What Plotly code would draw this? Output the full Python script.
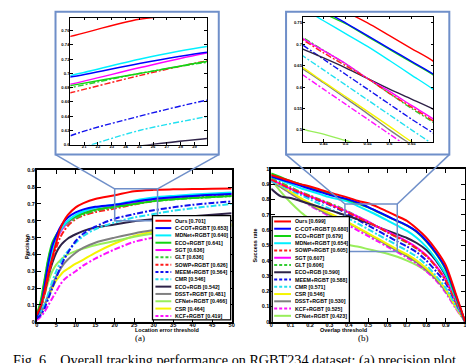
import plotly.graph_objects as go

W, H = 474, 363

# ---------------- data ----------------
T = [0, 1, 2, 3, 4, 5, 6, 7, 8, 10, 12, 15, 20, 25, 30, 35, 40, 45, 50]
P_OURS = [0.04, 0.09, 0.18, 0.29, 0.38, 0.47, 0.55, 0.60, 0.635, 0.68, 0.705, 0.73, 0.752, 0.776, 0.784, 0.787, 0.789, 0.79, 0.792]
P_CCOT = [0.03, 0.09, 0.21, 0.35, 0.45, 0.51, 0.56, 0.595, 0.62, 0.65, 0.668, 0.683, 0.695, 0.714, 0.73, 0.74, 0.748, 0.755, 0.76]
P_MDNET = [0.03, 0.08, 0.19, 0.32, 0.42, 0.49, 0.54, 0.575, 0.60, 0.635, 0.657, 0.678, 0.697, 0.72, 0.738, 0.748, 0.756, 0.762, 0.768]
P_ECO = [0.04, 0.12, 0.25, 0.38, 0.47, 0.515, 0.55, 0.575, 0.595, 0.625, 0.645, 0.665, 0.683, 0.70, 0.717, 0.728, 0.736, 0.742, 0.748]
P_SGT = [0.03, 0.09, 0.19, 0.31, 0.41, 0.48, 0.53, 0.565, 0.59, 0.625, 0.648, 0.667, 0.685, 0.708, 0.729, 0.74, 0.75, 0.757, 0.763]
P_GLT = [0.04, 0.11, 0.24, 0.37, 0.46, 0.505, 0.54, 0.565, 0.585, 0.615, 0.638, 0.66, 0.68, 0.70, 0.716, 0.727, 0.735, 0.741, 0.747]
P_SOWP = [0.03, 0.08, 0.16, 0.27, 0.37, 0.44, 0.50, 0.54, 0.57, 0.61, 0.632, 0.652, 0.673, 0.697, 0.718, 0.73, 0.74, 0.748, 0.755]
P_MEEM = [0.02, 0.04, 0.08, 0.14, 0.20, 0.26, 0.32, 0.37, 0.41, 0.48, 0.525, 0.565, 0.6125, 0.64, 0.663, 0.68, 0.695, 0.706, 0.715]
P_CMR = [0.02, 0.05, 0.10, 0.17, 0.24, 0.30, 0.35, 0.39, 0.42, 0.47, 0.51, 0.55, 0.59, 0.62, 0.64, 0.66, 0.675, 0.688, 0.70]
P_ECORGB = [0.03, 0.08, 0.17, 0.27, 0.35, 0.41, 0.45, 0.475, 0.495, 0.52, 0.54, 0.56, 0.578, 0.598, 0.609, 0.618, 0.627, 0.636, 0.645]
P_DSST = [0.02, 0.05, 0.10, 0.16, 0.22, 0.27, 0.31, 0.345, 0.37, 0.41, 0.44, 0.47, 0.50, 0.525, 0.545, 0.562, 0.577, 0.59, 0.60]
P_CFNET = [0.03, 0.08, 0.16, 0.24, 0.30, 0.34, 0.365, 0.385, 0.40, 0.42, 0.435, 0.455, 0.48, 0.505, 0.525, 0.54, 0.552, 0.562, 0.57]
P_CSR = [0.02, 0.05, 0.10, 0.15, 0.20, 0.245, 0.275, 0.30, 0.315, 0.345, 0.37, 0.41, 0.465, 0.51, 0.535, 0.55, 0.562, 0.572, 0.58]
P_KCF = [0.01, 0.03, 0.06, 0.10, 0.14, 0.18, 0.22, 0.25, 0.27, 0.30, 0.335, 0.375, 0.43, 0.475, 0.50, 0.515, 0.527, 0.537, 0.545]

O = [0, 0.05, 0.1, 0.15, 0.2, 0.25, 0.3, 0.35, 0.4, 0.45, 0.5, 0.55, 0.6, 0.65, 0.7, 0.75, 0.8, 0.85, 0.9, 0.95, 1.0]
S_OURS = [0.96, 0.94, 0.92, 0.90, 0.885, 0.865, 0.845, 0.828, 0.81, 0.79, 0.775, 0.75, 0.72, 0.69, 0.66, 0.61, 0.55, 0.47, 0.37, 0.19, 0.0]
S_CCOT = [0.95, 0.93, 0.91, 0.89, 0.87, 0.85, 0.83, 0.815, 0.80, 0.778, 0.75, 0.72, 0.69, 0.66, 0.63, 0.59, 0.53, 0.45, 0.35, 0.18, 0.0]
S_ECO = [0.97, 0.945, 0.92, 0.90, 0.875, 0.855, 0.835, 0.815, 0.795, 0.772, 0.748, 0.718, 0.688, 0.658, 0.628, 0.588, 0.525, 0.445, 0.34, 0.17, 0.0]
S_MDNET = [0.95, 0.925, 0.90, 0.875, 0.855, 0.835, 0.815, 0.80, 0.785, 0.755, 0.725, 0.695, 0.662, 0.628, 0.594, 0.55, 0.49, 0.41, 0.31, 0.16, 0.0]
S_SOWP = [0.93, 0.90, 0.87, 0.845, 0.82, 0.795, 0.77, 0.74, 0.712, 0.68, 0.65, 0.62, 0.585, 0.553, 0.52, 0.48, 0.43, 0.36, 0.27, 0.14, 0.0]
S_SGT = [0.93, 0.90, 0.87, 0.845, 0.82, 0.795, 0.77, 0.745, 0.715, 0.685, 0.655, 0.62, 0.59, 0.557, 0.525, 0.485, 0.435, 0.365, 0.275, 0.14, 0.0]
S_GLT = [0.94, 0.91, 0.88, 0.85, 0.825, 0.80, 0.775, 0.75, 0.718, 0.686, 0.654, 0.62, 0.585, 0.55, 0.517, 0.478, 0.43, 0.36, 0.27, 0.14, 0.0]
S_ECORGB = [0.87, 0.82, 0.81, 0.79, 0.77, 0.75, 0.73, 0.71, 0.69, 0.668, 0.645, 0.62, 0.595, 0.572, 0.548, 0.515, 0.47, 0.40, 0.30, 0.15, 0.0]
S_MEEM = [0.93, 0.90, 0.87, 0.84, 0.815, 0.79, 0.765, 0.735, 0.70, 0.665, 0.63, 0.595, 0.56, 0.525, 0.492, 0.455, 0.40, 0.33, 0.25, 0.13, 0.0]
S_CMR = [0.92, 0.89, 0.86, 0.83, 0.80, 0.77, 0.74, 0.71, 0.675, 0.64, 0.605, 0.57, 0.535, 0.50, 0.465, 0.425, 0.37, 0.30, 0.22, 0.11, 0.0]
S_CSR = [0.93, 0.89, 0.85, 0.81, 0.775, 0.74, 0.71, 0.68, 0.648, 0.612, 0.578, 0.543, 0.508, 0.472, 0.44, 0.40, 0.35, 0.29, 0.21, 0.10, 0.0]
S_DSST = [0.92, 0.88, 0.84, 0.80, 0.765, 0.73, 0.70, 0.67, 0.644, 0.61, 0.574, 0.538, 0.50, 0.465, 0.43, 0.39, 0.34, 0.28, 0.20, 0.10, 0.0]
S_KCF = [0.92, 0.88, 0.84, 0.80, 0.76, 0.725, 0.69, 0.66, 0.63, 0.595, 0.56, 0.525, 0.49, 0.455, 0.42, 0.38, 0.33, 0.27, 0.19, 0.09, 0.0]
S_CFNET = [0.93, 0.85, 0.78, 0.72, 0.67, 0.62, 0.575, 0.535, 0.503, 0.49, 0.475, 0.46, 0.445, 0.425, 0.40, 0.37, 0.33, 0.28, 0.21, 0.11, 0.0]

PREC_LABELS = ["Ours [0.701]", "C-COT+RGBT [0.653]", "MDNet+RGBT [0.640]", "ECO+RGBT [0.641]",
               "SGT [0.636]", "GLT [0.636]", "SOWP+RGBT [0.626]", "MEEM+RGBT [0.564]",
               "CMR [0.546]", "ECO+RGB [0.542]", "DSST+RGBT [0.481]", "CFNet+RGBT [0.466]",
               "CSR [0.464]", "KCF+RGBT [0.419]"]
SUCC_LABELS = ["Ours [0.699]", "C-COT+RGBT [0.680]", "ECO+RGBT [0.679]", "MDNet+RGBT [0.654]",
               "SOWP+RGBT [0.605]", "SGT [0.607]", "GLT [0.606]", "ECO+RGB [0.590]",
               "MEEM+RGBT [0.588]", "CMR [0.571]", "CSR [0.546]", "DSST+RGBT [0.530]",
               "KCF+RGBT [0.525]", "CFNet+RGBT [0.423]"]

# styles per method
STY = {
    "Ours": ("#ff0000", "solid"), "C-COT+RGBT": ("#0000ff", "solid"),
    "MDNet+RGBT": ("#00f0ff", "solid"), "ECO+RGBT": ("#12d412", "solid"),
    "SGT": ("#ff00ff", "solid"), "GLT": ("#33cc33", "dash"),
    "SOWP+RGBT": ("#ff1a1a", "dash"), "MEEM+RGBT": ("#1010ee", "dash"),
    "CMR": ("#22e0f0", "dash"), "ECO+RGB": ("#2e2248", "solid"),
    "DSST+RGBT": ("#808080", "solid"), "CFNet+RGBT": ("#98ee5a", "solid"),
    "CSR": ("#f5f500", "solid"), "KCF+RGBT": ("#ff10ff", "dash"),
}
PREC = {"Ours": P_OURS, "C-COT+RGBT": P_CCOT, "MDNet+RGBT": P_MDNET, "ECO+RGBT": P_ECO,
        "SGT": P_SGT, "GLT": P_GLT, "SOWP+RGBT": P_SOWP, "MEEM+RGBT": P_MEEM, "CMR": P_CMR,
        "ECO+RGB": P_ECORGB, "DSST+RGBT": P_DSST, "CFNet+RGBT": P_CFNET, "CSR": P_CSR, "KCF+RGBT": P_KCF}
SUCC = {"Ours": S_OURS, "C-COT+RGBT": S_CCOT, "MDNet+RGBT": S_MDNET, "ECO+RGBT": S_ECO,
        "SGT": S_SGT, "GLT": S_GLT, "SOWP+RGBT": S_SOWP, "MEEM+RGBT": S_MEEM, "CMR": S_CMR,
        "ECO+RGB": S_ECORGB, "DSST+RGBT": S_DSST, "CFNet+RGBT": S_CFNET, "CSR": S_CSR, "KCF+RGBT": S_KCF}

DASHDOT = "6px,2px,2px,2px"


def px(x):
    return x / W


def py(y):
    return 1 - y / H


# axes pixel boxes (left, top, right, bottom)
BOX = {
    1: (27, 162, 224, 316),   # precision main
    2: (264, 160.5, 460, 316),  # success main
    3: (61, 7, 199, 136),     # precision inset
    4: (296, 6, 428, 133),    # success inset
}
RNG = {
    1: ([0, 50], [0, 0.9]),
    2: ([0, 1], [0, 1]),
    3: ([20, 29.9], [0.6, 0.778]),
    4: ([0.403, 0.70], [0.472, 0.764]),
}

fig = go.Figure()


def add_curves(xs, table, labels, k, width):
    for lab in reversed(labels):
        name = lab.split(" [")[0]
        col, dash = STY[name]
        fig.add_trace(go.Scatter(
            x=xs, y=table[name], mode="lines", name=lab, showlegend=False,
            line=dict(color=col, width=width, dash=DASHDOT if dash == "dash" else "solid",
                      shape="spline", smoothing=0.8),
            xaxis="x" if k == 1 else f"x{k}", yaxis="y" if k == 1 else f"y{k}",
            hoverinfo="skip"))


add_curves(T, PREC, PREC_LABELS, 1, 2)
add_curves(O, SUCC, SUCC_LABELS, 2, 2)
add_curves(T, PREC, PREC_LABELS, 3, 1.4)
add_curves(O, SUCC, SUCC_LABELS, 4, 1.4)

TICKS = {
    1: (list(range(0, 51, 5)), [str(v) for v in range(0, 51, 5)],
        [i / 10 for i in range(10)], ["0"] + [f"0.{i}" for i in range(1, 10)]),
    2: ([i / 10 for i in range(11)], ["0"] + [f"0.{i}" for i in range(1, 10)] + ["1"],
        [i / 10 for i in range(11)], ["0"] + [f"0.{i}" for i in range(1, 10)] + ["1"]),
    3: (list(range(21, 30)), [str(v) for v in range(21, 30)],
        [0.6, 0.62, 0.64, 0.66, 0.68, 0.7, 0.72, 0.74, 0.76],
        ["0.6", "0.62", "0.64", "0.66", "0.68", "0.7", "0.72", "0.74", "0.76"]),
    4: ([0.45, 0.5, 0.55, 0.6, 0.65], ["0.45", "0.5", "0.55", "0.6", "0.65"],
        [0.5, 0.55, 0.6, 0.65, 0.7, 0.75], ["0.5", "0.55", "0.6", "0.65", "0.7", "0.75"]),
}

layout = dict(width=W, height=H, margin=dict(l=0, r=0, t=0, b=0),
              paper_bgcolor="white", plot_bgcolor="white", showlegend=False,
              font=dict(family="Liberation Sans, Arial", color="black"))
for k in range(1, 5):
    l, t, r, b = BOX[k]
    xr, yr = RNG[k]
    xt, xtt, yt, ytt = TICKS[k]
    main = k <= 2
    fs = 5.5 if main else 4.2
    sfx = "" if k == 1 else str(k)
    layout["xaxis" + sfx] = dict(
        domain=[px(l), px(r)], range=xr, anchor="y" + sfx, tickvals=xt, ticktext=xtt,
        ticks="inside", ticklen=4 if main else 2.5, tickwidth=1, tickcolor="black",
        showline=True, linecolor="black", linewidth=1.6 if main else 1, mirror="ticks",
        showgrid=False, zeroline=False, ticklabelstandoff=-3,
        tickfont=dict(size=fs, weight="bold", color="black"))
    layout["yaxis" + sfx] = dict(
        domain=[py(b), py(t)], range=yr, anchor="x" + sfx, tickvals=yt, ticktext=ytt,
        ticks="inside", ticklen=4 if main else 2.5, tickwidth=1, tickcolor="black",
        showline=True, linecolor="black", linewidth=1.6 if main else 1, mirror="ticks",
        showgrid=False, zeroline=False, ticklabelstandoff=-1,
        tickfont=dict(size=fs, weight="bold", color="black"))
fig.update_layout(**layout)

shapes = []
annots = []
ZC = "#6f8fc9"


def d2p(k, x, y):
    l, t, r, b = BOX[k]
    xr, yr = RNG[k]
    X = l + (x - xr[0]) / (xr[1] - xr[0]) * (r - l)
    Y = b - (y - yr[0]) / (yr[1] - yr[0]) * (b - t)
    return X, Y


def zoom_frame(k, frame, rect):
    fl, ft, fr, fb = frame
    (x0, x1), (y0, y1) = rect
    sfx = "" if k == 1 else str(k)
    shapes.append(dict(type="rect", xref="paper", yref="paper", x0=px(fl), x1=px(fr),
                       y0=py(fb), y1=py(ft), line=dict(color=ZC, width=2), layer="above"))
    shapes.append(dict(type="rect", xref="x" + sfx, yref="y" + sfx, x0=x0, x1=x1, y0=y0, y1=y1,
                       line=dict(color=ZC, width=1.5), layer="above"))
    ax, ay = d2p(k, x0, y1)
    bx, by = d2p(k, x1, y1)
    shapes.append(dict(type="line", xref="paper", yref="paper", x0=px(fl), y0=py(fb),
                       x1=px(ax), y1=py(ay), line=dict(color=ZC, width=1.5), layer="above"))
    shapes.append(dict(type="line", xref="paper", yref="paper", x0=px(fr), y0=py(fb),
                       x1=px(bx), y1=py(by), line=dict(color=ZC, width=1.5), layer="above"))


zoom_frame(1, (46, 0.8, 211, 146), ([20, 31], [0.6, 0.79]))
zoom_frame(2, (279, 0.8, 444, 146), ([0.38, 0.65], [0.46, 0.77]))


def legend(labels, box, y0, step, lx0, lx1, tx):
    bl, bt, br, bb = box
    shapes.append(dict(type="rect", xref="paper", yref="paper", x0=px(bl), x1=px(br),
                       y0=py(bb), y1=py(bt), line=dict(color="black", width=1.3),
                       fillcolor="white", layer="above"))
    for i, lab in enumerate(labels):
        name = lab.split(" [")[0]
        col, dash = STY[name]
        yy = y0 + i * step
        shapes.append(dict(type="line", xref="paper", yref="paper", x0=px(lx0), x1=px(lx1),
                           y0=py(yy), y1=py(yy),
                           line=dict(color=col, width=2, dash="3px,2px" if dash == "dash" else "solid"),
                           layer="above"))
        annots.append(dict(x=px(tx), y=py(yy), xref="paper", yref="paper", text=lab,
                           showarrow=False, xanchor="left", yanchor="middle",
                           font=dict(size=5.3, weight="bold", color="black")))


legend(PREC_LABELS, (144, 208, 223, 314), 213.3, 7.44, 147, 163, 165)
legend(SUCC_LABELS, (265, 209, 343, 317), 214, 7.38, 267, 284, 286)

# axis titles
annots += [
    dict(x=px(125.5), y=py(328.8), text="Location error threshold", showarrow=False,
         xref="paper", yref="paper", font=dict(size=5.5, weight="bold"), borderpad=0),
    dict(x=px(12), y=py(239), text="Precision", showarrow=False, textangle=-90,
         xref="paper", yref="paper", font=dict(size=5.5, weight="bold")),
    dict(x=px(362), y=py(328.8), text="Overlap threshold", showarrow=False,
         xref="paper", yref="paper", font=dict(size=5.5, weight="bold"), borderpad=0),
    dict(x=px(248), y=py(238), text="Success rate", showarrow=False, textangle=-90,
         xref="paper", yref="paper", font=dict(size=5.5, weight="bold")),
    dict(x=px(125), y=py(338.8), text="(a)", showarrow=False, xref="paper", yref="paper",
         font=dict(size=9, family="Liberation Serif, Times New Roman"), borderpad=0),
    dict(x=px(364), y=py(338.8), text="(b)", showarrow=False, xref="paper", yref="paper",
         font=dict(size=9, family="Liberation Serif, Times New Roman"), borderpad=0),
    dict(x=px(1), y=py(355), xanchor="left", yanchor="middle",
         text="Fig. 6.   Overall tracking performance on RGBT234 dataset: (a) precision plot",
         showarrow=False, xref="paper", yref="paper",
         font=dict(size=14.2, family="Liberation Serif, Times New Roman")),
]

fig.update_layout(shapes=shapes, annotations=annots)
fig.write_html("out.html")
